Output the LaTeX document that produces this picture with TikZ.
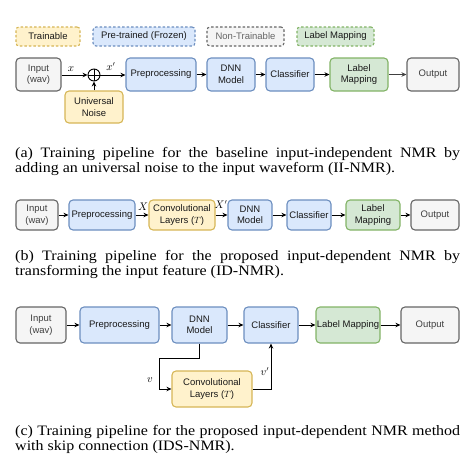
\documentclass[tikz,border=0pt]{standalone}
\usepackage{fontspec}
\setmainfont{Liberation Serif}
\setsansfont{Liberation Sans}
\usetikzlibrary{arrows.meta}
\definecolor{yfill}{HTML}{FFF2CC}\definecolor{ydraw}{HTML}{D6B656}
\definecolor{bfill}{HTML}{DAE8FC}\definecolor{bdraw}{HTML}{6C8EBF}
\definecolor{gfill}{HTML}{F5F5F5}\definecolor{gdraw}{HTML}{666666}
\definecolor{lfill}{HTML}{D5E8D4}\definecolor{ldraw}{HTML}{82B366}
\tikzset{
  box/.style={rounded corners=4pt, line width=1.1pt, inner sep=0pt, align=center,
    font=\fontsize{9.5}{11.5}\selectfont\sffamily, text=black!90},
  ybox/.style={box, fill=yfill, draw=ydraw},
  bbox/.style={box, fill=bfill, draw=bdraw},
  gbox/.style={box, fill=gfill, draw=gdraw, text=black!75},
  lbox/.style={box, fill=lfill, draw=ldraw},
  legend/.style={dash pattern=on 2.5pt off 2pt, rounded corners=3pt, minimum height=19pt},
  arr/.style={line width=0.9pt, -{Stealth[length=5pt,width=4.5pt]}},
  mlab/.style={inner sep=0pt, font=\fontsize{10.5}{12}\selectfont},
  capt/.style={anchor=north west, inner sep=0pt, text width=445pt, align=justify,
    font=\fontsize{16}{17}\selectfont, yscale=0.9, transform shape},
}
\begin{document}
\begin{tikzpicture}[x=1pt,y=-1pt]
\useasboundingbox (0,0) rectangle (474,469);
% legend
\node[ybox, legend, minimum width=64pt] (lt) at (48,36.5) {Trainable};
\node[bbox, legend, minimum width=102pt] (lp) at (144,36.5) {Pre-trained (Frozen)};
\node[gbox, legend, minimum width=77pt, text=black!60] (ln) at (245.5,36.5) {Non-Trainable};
\node[lbox, legend, minimum width=77pt] (ll) at (335.5,36.5) {Label Mapping};
% row a
\node[gbox, minimum width=45pt, minimum height=33pt] (ina) at (38.5,74.5) {Input\\(wav)};
\node[draw, circle, line width=0.9pt, minimum size=12pt, inner sep=0pt] (sum) at (94,75) {};
\draw[line width=0.9pt] (sum.north) -- (sum.south) (sum.west) -- (sum.east);
\node[ybox, minimum width=58pt, minimum height=32pt] (noise) at (94,107) {Universal\\Noise};
\node[bbox, minimum width=70pt, minimum height=33pt] (prea) at (161,74.5) {Preprocessing};
\node[bbox, minimum width=48pt, minimum height=33pt] (dnna) at (231,74.5) {DNN\\Model};
\node[bbox, minimum width=48pt, minimum height=33pt] (clsa) at (290,74.5) {Classifier};
\node[lbox, minimum width=58pt, minimum height=33pt] (lma) at (359,74.5) {Label\\Mapping};
\node[gbox, minimum width=52pt, minimum height=33pt] (outa) at (433,74.5) {Output};
\draw[arr] (ina.east |- sum) -- (sum.west);
\draw[arr] (sum.east) -- (prea.west |- sum);
\draw[arr] (noise.north) -- (sum.south);
\draw[arr] (prea) -- (dnna);
\draw[arr] (dnna) -- (clsa);
\draw[arr] (clsa) -- (lma);
\draw[arr, draw=black!75] (lma) -- (outa);
\node[mlab] (xa) at (71,69) {$x$};
\node[mlab] (xpa) at (111,67) {$x'$};
\node[capt] (capa) at (15,147) {(a) Training pipeline for the baseline input-independent NMR by\linebreak adding an universal noise to the input waveform (II-NMR).};
% row b
\node[gbox, minimum width=42pt, minimum height=30pt] (inb) at (37,215) {Input\\(wav)};
\node[bbox, minimum width=66pt, minimum height=30pt] (preb) at (102,215) {Preprocessing};
\node[ybox, minimum width=66pt, minimum height=30pt] (convb) at (182,215) {Convolutional\\Layers ($T$)};
\node[bbox, minimum width=44pt, minimum height=30pt] (dnnb) at (250,215) {DNN\\Model};
\node[bbox, minimum width=44pt, minimum height=30pt] (clsb) at (309,215) {Classifier};
\node[lbox, minimum width=54pt, minimum height=30pt] (lmb) at (373,215) {Label\\Mapping};
\node[gbox, minimum width=48pt, minimum height=30pt] (outb) at (435,215) {Output};
\draw[arr] (inb) -- (preb);
\draw[arr] (preb) -- (convb);
\draw[arr] (convb) -- (dnnb);
\draw[arr] (dnnb) -- (clsb);
\draw[arr] (clsb) -- (lmb);
\draw[arr] (lmb) -- (outb);
\node[mlab] (xb) at (143,207) {$X$};
\node[mlab] (xpb) at (221,205) {$X'$};
\node[capt] (capb) at (15,250) {(b) Training pipeline for the proposed input-dependent NMR by\linebreak transforming the input feature (ID-NMR).};
% row c
\node[gbox, minimum width=50pt, minimum height=36pt] (inc) at (41,325) {Input\\(wav)};
\node[bbox, minimum width=79pt, minimum height=36pt] (prec) at (119.5,325) {Preprocessing};
\node[bbox, minimum width=55pt, minimum height=36pt] (dnnc) at (199.5,325) {DNN\\Model};
\node[bbox, minimum width=54pt, minimum height=36pt] (clsc) at (271,325) {Classifier};
\node[lbox, minimum width=64pt, minimum height=36pt] (lmc) at (348,325) {Label Mapping};
\node[gbox, minimum width=58pt, minimum height=36pt] (outc) at (430,325) {Output};
\node[ybox, minimum width=80pt, minimum height=36pt] (convc) at (212,389) {Convolutional\\Layers ($T$)};
\draw[arr] (inc) -- (prec);
\draw[arr] (prec) -- (dnnc);
\draw[arr] (dnnc) -- (clsc);
\draw[arr] (clsc) -- (lmc);
\draw[arr] (lmc) -- (outc);
\coordinate (k1) at (159,358);
\draw[arr] (dnnc.south) |- (k1) |- (convc.west);
\draw[arr] (convc.east) -| (clsc.south);
\node[mlab] (vc) at (150,380) {$v$};
\node[mlab] (vpc) at (265,372) {$v'$};
\node[capt] (capc) at (15,425) {(c) Training pipeline for the proposed input-dependent NMR method\linebreak with skip connection (IDS-NMR).};
\end{tikzpicture}
\end{document}
